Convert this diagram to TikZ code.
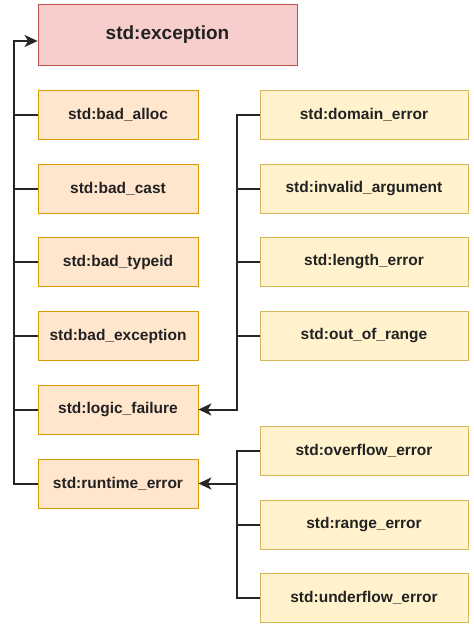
\documentclass[tikz,border=0pt]{standalone}
\usepackage{fontspec}
\setmainfont{Liberation Sans}
\usetikzlibrary{arrows.meta}
\definecolor{exfill}{HTML}{F8CECC}
\definecolor{exdraw}{HTML}{B85450}
\definecolor{lfill}{HTML}{FFE6CC}
\definecolor{ldraw}{HTML}{D79B00}
\definecolor{rfill}{HTML}{FFF2CC}
\definecolor{rdraw}{HTML}{D6B656}
\definecolor{txt}{HTML}{222222}
\tikzset{
  exbox/.style={draw=exdraw, fill=exfill, line width=0.8pt, minimum width=259pt, minimum height=61pt, inner sep=0pt, text=txt, font=\fontsize{19}{22}\selectfont\bfseries},
  lbox/.style={draw=ldraw, fill=lfill, line width=0.8pt, minimum width=160pt, minimum height=49pt, inner sep=0pt, text=txt, font=\fontsize{15.5}{18}\selectfont\bfseries},
  rbox/.style={draw=rdraw, fill=rfill, line width=0.8pt, minimum width=208pt, minimum height=49pt, inner sep=0pt, text=txt, font=\fontsize{15.5}{18}\selectfont\bfseries},
  conn/.style={line width=2pt, draw=black!85},
  arr/.style={conn, -{Stealth[length=13pt, width=12pt, inset=3.5pt]}}
}
\begin{document}
\begin{tikzpicture}[x=1pt, y=-1pt]
\useasboundingbox (0,0) rectangle (474,627);
\node[exbox] (exc) at (167.5,35) {std:exception};
\node[lbox] (alloc) at (118,115) {std:bad\_alloc};
\node[lbox] (cast) at (118,188.5) {std:bad\_cast};
\node[lbox] (typeid) at (118,262) {std:bad\_typeid};
\node[lbox] (badexc) at (118,336) {std:bad\_exception};
\node[lbox] (logic) at (118,409.5) {std:logic\_failure};
\node[lbox] (runtime) at (118,483.5) {std:runtime\_error};
\node[rbox] (domain) at (364,115) {std:domain\_error};
\node[rbox] (invalid) at (364,188.5) {std:invalid\_argument};
\node[rbox] (length) at (364,262) {std:length\_error};
\node[rbox] (range) at (364,336) {std:out\_of\_range};
\node[rbox] (overflow) at (364,451) {std:overflow\_error};
\node[rbox] (rangeerr) at (364,525) {std:range\_error};
\node[rbox] (underflow) at (364,598) {std:underflow\_error};
\coordinate (tl) at (14,41);
\coordinate (tlb) at (14,483.5);
\coordinate (tr) at (237,115);
\coordinate (trb) at (237,409.5);
\coordinate (ur) at (237,451);
\coordinate (urb) at (237,598);
\coordinate (urm) at (237,483.5);
% left trunk
\draw[arr] (runtime.west) -- (tlb) -- (tl) -- (tl -| exc.west);
\foreach \n in {alloc,cast,typeid,badexc,logic}
  \draw[conn] (\n.west) -- (\n.west -| tl);
% logic trunk
\draw[arr] (domain.west) -- (tr) -- (trb) -- (logic.east);
\foreach \n in {invalid,length,range}
  \draw[conn] (\n.west) -- (\n.west -| tr);
% runtime trunk
\draw[conn] (overflow.west) -- (ur) -- (urb) -- (underflow.west);
\draw[conn] (rangeerr.west) -- (rangeerr.west -| ur);
\draw[arr] (urm) -- (runtime.east);
\end{tikzpicture}
\end{document}
